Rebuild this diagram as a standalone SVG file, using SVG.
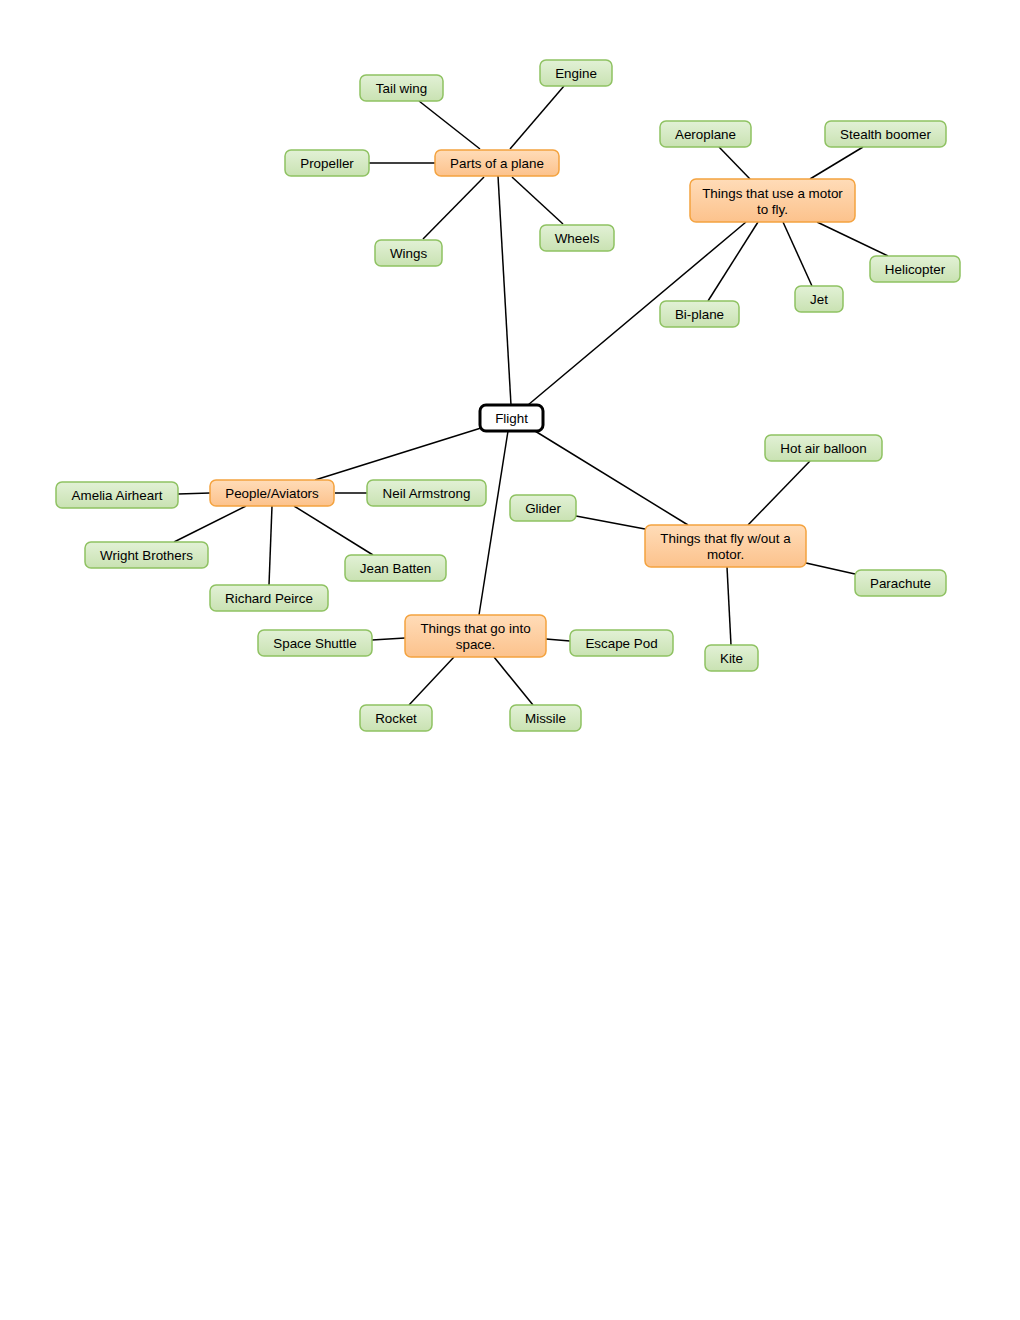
<svg xmlns="http://www.w3.org/2000/svg" width="1020" height="1320" viewBox="0 0 1020 1320">
<defs>
<linearGradient id="gg" x1="0" y1="0" x2="0" y2="1"><stop offset="0" stop-color="#e2f1d6"/><stop offset="1" stop-color="#c9e2b2"/></linearGradient>
<linearGradient id="og" x1="0" y1="0" x2="0" y2="1"><stop offset="0" stop-color="#ffdcb8"/><stop offset="1" stop-color="#fcc28c"/></linearGradient>
<style>
.g rect{fill:url(#gg);stroke:#8fc262;stroke-width:1.5}
.o rect{fill:url(#og);stroke:#f4a33f;stroke-width:1.5}
.c rect{fill:#ffffff;stroke:#000000;stroke-width:3}
text{font-family:"Liberation Sans",Arial,sans-serif;font-size:13.4px;fill:#000;text-anchor:middle}
#edges line{stroke:#000;stroke-width:1.5}
</style>
</defs>
<rect width="1020" height="1320" fill="#ffffff"/>
<g id="edges">
<line x1="419" y1="101" x2="480" y2="149"/>
<line x1="564" y1="86" x2="510" y2="149"/>
<line x1="369" y1="163" x2="435" y2="163"/>
<line x1="423" y1="239" x2="484" y2="177"/>
<line x1="563" y1="224" x2="512" y2="177"/>
<line x1="498" y1="176" x2="511" y2="405"/>
<line x1="719" y1="147" x2="750" y2="179"/>
<line x1="863" y1="147" x2="810" y2="179"/>
<line x1="817" y1="222" x2="888" y2="256"/>
<line x1="783" y1="222" x2="812" y2="286"/>
<line x1="758" y1="222" x2="708" y2="301"/>
<line x1="746" y1="222" x2="528" y2="405"/>
<line x1="178" y1="494" x2="210" y2="493"/>
<line x1="335" y1="493" x2="367" y2="493"/>
<line x1="174" y1="542" x2="246" y2="506"/>
<line x1="269" y1="585" x2="272" y2="506"/>
<line x1="373" y1="555" x2="294" y2="506"/>
<line x1="315" y1="480" x2="481" y2="428"/>
<line x1="372" y1="640" x2="405" y2="638"/>
<line x1="546" y1="639" x2="570" y2="641"/>
<line x1="409" y1="705" x2="454" y2="657"/>
<line x1="533" y1="705" x2="494" y2="657"/>
<line x1="508" y1="431" x2="479" y2="615"/>
<line x1="535" y1="431" x2="688" y2="525"/>
<line x1="810" y1="461" x2="748" y2="525"/>
<line x1="576" y1="516" x2="645" y2="529"/>
<line x1="806" y1="563" x2="855" y2="574"/>
<line x1="727" y1="567" x2="731" y2="645"/>
</g>
<g id="flight" class="c"><rect x="480" y="405" width="63" height="26" rx="6"/><text x="511.5" y="423">Flight</text></g>
<g id="parts" class="o"><rect x="435" y="150" width="124" height="26" rx="6"/><text x="497" y="168">Parts of a plane</text></g>
<g id="tailwing" class="g"><rect x="360" y="75" width="83" height="26" rx="6"/><text x="401.5" y="93">Tail wing</text></g>
<g id="engine" class="g"><rect x="540" y="60" width="72" height="26" rx="6"/><text x="576" y="78">Engine</text></g>
<g id="propeller" class="g"><rect x="285" y="150" width="84" height="26" rx="6"/><text x="327" y="168">Propeller</text></g>
<g id="wings" class="g"><rect x="375" y="240" width="67" height="26" rx="6"/><text x="408.5" y="258">Wings</text></g>
<g id="wheels" class="g"><rect x="540" y="225" width="74" height="26" rx="6"/><text x="577" y="243">Wheels</text></g>
<g id="motor" class="o"><rect x="690" y="179" width="165" height="43" rx="6"/><text x="772.5" y="198">Things that use a motor</text><text x="772.5" y="214">to fly.</text></g>
<g id="aeroplane" class="g"><rect x="660" y="121" width="91" height="26" rx="6"/><text x="705.5" y="139">Aeroplane</text></g>
<g id="stealth" class="g"><rect x="825" y="121" width="121" height="26" rx="6"/><text x="885.5" y="139">Stealth boomer</text></g>
<g id="helicopter" class="g"><rect x="870" y="256" width="90" height="26" rx="6"/><text x="915" y="274">Helicopter</text></g>
<g id="jet" class="g"><rect x="795" y="286" width="48" height="26" rx="6"/><text x="819" y="304">Jet</text></g>
<g id="biplane" class="g"><rect x="660" y="301" width="79" height="26" rx="6"/><text x="699.5" y="319">Bi-plane</text></g>
<g id="people" class="o"><rect x="210" y="480" width="124" height="26" rx="6"/><text x="272" y="498">People/Aviators</text></g>
<g id="amelia" class="g"><rect x="56" y="482" width="122" height="26" rx="6"/><text x="117" y="500">Amelia Airheart</text></g>
<g id="neil" class="g"><rect x="367" y="480" width="119" height="26" rx="6"/><text x="426.5" y="498">Neil Armstrong</text></g>
<g id="wright" class="g"><rect x="85" y="542" width="123" height="26" rx="6"/><text x="146.5" y="560">Wright Brothers</text></g>
<g id="jean" class="g"><rect x="345" y="555" width="101" height="26" rx="6"/><text x="395.5" y="573">Jean Batten</text></g>
<g id="richard" class="g"><rect x="210" y="585" width="118" height="26" rx="6"/><text x="269" y="603">Richard Peirce</text></g>
<g id="space" class="o"><rect x="405" y="615" width="141" height="42" rx="6"/><text x="475.5" y="633">Things that go into</text><text x="475.5" y="649">space.</text></g>
<g id="shuttle" class="g"><rect x="258" y="630" width="114" height="26" rx="6"/><text x="315" y="648">Space Shuttle</text></g>
<g id="escape" class="g"><rect x="570" y="630" width="103" height="26" rx="6"/><text x="621.5" y="648">Escape Pod</text></g>
<g id="rocket" class="g"><rect x="360" y="705" width="72" height="26" rx="6"/><text x="396" y="723">Rocket</text></g>
<g id="missile" class="g"><rect x="510" y="705" width="71" height="26" rx="6"/><text x="545.5" y="723">Missile</text></g>
<g id="nomotor" class="o"><rect x="645" y="525" width="161" height="42" rx="6"/><text x="725.5" y="543">Things that fly w/out a</text><text x="725.5" y="559">motor.</text></g>
<g id="balloon" class="g"><rect x="765" y="435" width="117" height="26" rx="6"/><text x="823.5" y="453">Hot air balloon</text></g>
<g id="glider" class="g"><rect x="510" y="495" width="66" height="26" rx="6"/><text x="543" y="513">Glider</text></g>
<g id="parachute" class="g"><rect x="855" y="570" width="91" height="26" rx="6"/><text x="900.5" y="588">Parachute</text></g>
<g id="kite" class="g"><rect x="705" y="645" width="53" height="26" rx="6"/><text x="731.5" y="663">Kite</text></g>
</svg>
